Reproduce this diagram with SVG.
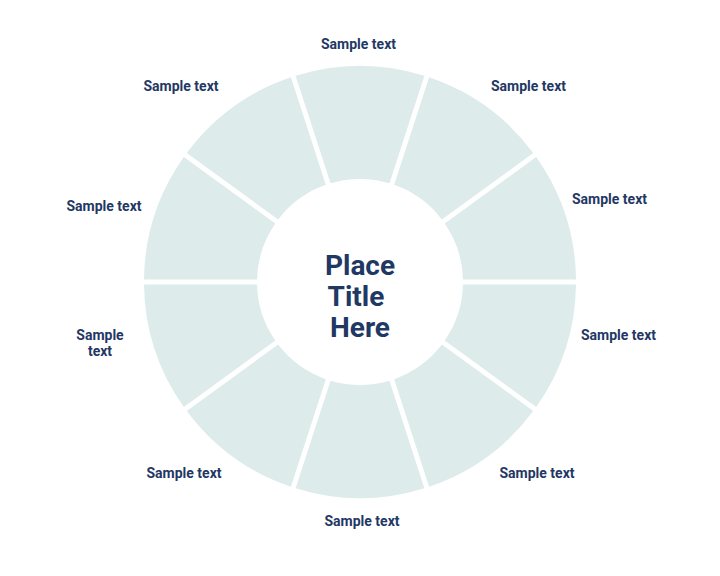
<svg xmlns="http://www.w3.org/2000/svg" xmlns:xlink="http://www.w3.org/1999/xlink" width="720" height="576" viewBox="0 0 720 576">
<style>
.seg{fill:#ddebeb;stroke:none}
.lbl{font-family:Roboto,"Liberation Sans",sans-serif;font-weight:bold;font-size:14px;fill:#1f3864;text-anchor:middle}
.title{font-family:Roboto,"Liberation Sans",sans-serif;font-weight:bold;font-size:28px;fill:#1f3864;text-anchor:middle}
</style>
<defs>
<path id="seg" class="seg" d="M295.63,75.81 A216,216 0 0 1 424.37,75.81 L389.45,183.30 A103,103 0 0 0 330.55,183.30 Z"/>
</defs>
<rect width="720" height="576" fill="#ffffff"/>
<g id="connectors"></g>
<g id="segment-1"><use xlink:href="#seg" href="#seg" transform="rotate(0 360 282)"/></g>
<g id="segment-2"><use xlink:href="#seg" href="#seg" transform="rotate(36 360 282)"/></g>
<g id="segment-3"><use xlink:href="#seg" href="#seg" transform="rotate(72 360 282)"/></g>
<g id="segment-4"><use xlink:href="#seg" href="#seg" transform="rotate(108 360 282)"/></g>
<g id="segment-5"><use xlink:href="#seg" href="#seg" transform="rotate(144 360 282)"/></g>
<g id="segment-6"><use xlink:href="#seg" href="#seg" transform="rotate(180 360 282)"/></g>
<g id="segment-7"><use xlink:href="#seg" href="#seg" transform="rotate(216 360 282)"/></g>
<g id="segment-8"><use xlink:href="#seg" href="#seg" transform="rotate(252 360 282)"/></g>
<g id="segment-9"><use xlink:href="#seg" href="#seg" transform="rotate(288 360 282)"/></g>
<g id="segment-10"><use xlink:href="#seg" href="#seg" transform="rotate(324 360 282)"/></g>
<g id="title">
<text class="title" x="360" y="275">Place</text>
<text class="title" x="356" y="306">Title</text>
<text class="title" x="360" y="337">Here</text>
</g>
<g id="labels">
<text class="lbl" x="358.5" y="49">Sample text</text>
<text class="lbl" x="528.5" y="91">Sample text</text>
<text class="lbl" x="609.5" y="204">Sample text</text>
<text class="lbl" x="618.5" y="340">Sample text</text>
<text class="lbl" x="537" y="478">Sample text</text>
<text class="lbl" x="362" y="526">Sample text</text>
<text class="lbl" x="184" y="478">Sample text</text>
<text class="lbl" x="100" y="340">Sample</text>
<text class="lbl" x="100" y="356">text</text>
<text class="lbl" x="104" y="211">Sample text</text>
<text class="lbl" x="181" y="91">Sample text</text>
</g>
</svg>
